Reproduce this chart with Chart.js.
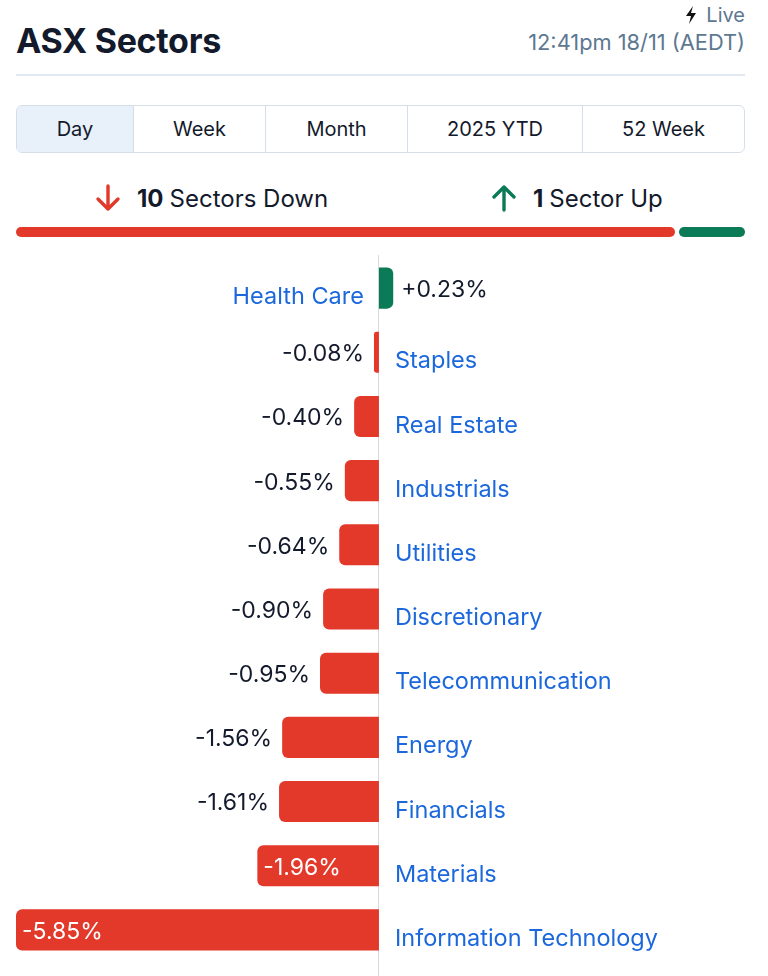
<!DOCTYPE html>
<html>
<head>
<meta charset="utf-8">
<script src="https://cdn.jsdelivr.net/npm/chart.js@4.4.1/dist/chart.umd.min.js"></script>
<style>
  body { margin: 0; background: #fff; font-family: Inter, "Noto Sans", sans-serif; color: #131a2b; }
  #wrap { position: relative; width: 768px; height: 976px; overflow: hidden; }
  h1 { position: absolute; left: 16px; top: 20px; margin: 0; font-size: 34px; font-weight: 700; letter-spacing: -0.3px; }
  .live { position: absolute; right: 23px; top: 3px; font-size: 20px; color: #5d7891; display: flex; align-items: center; }
  .stamp { position: absolute; right: 23px; top: 29px; font-size: 21.8px; color: #5d7891; }
  .sep { position: absolute; left: 16px; width: 729px; top: 74px; height: 2px; background: #e1e8f0; }
  .tabs { position: absolute; left: 16px; top: 105px; width: 727px; height: 46px; border: 1px solid #d5dfea; border-radius: 6px; display: flex; overflow: hidden; }
  .tabs div { display: flex; align-items: center; justify-content: center; font-size: 20px; border-left: 1px solid #d5dfea; }
  .tabs div:first-child { border-left: none; background: #e8f0f9; }
  .sum { position: absolute; top: 183px; font-size: 24px; display: flex; align-items: center; }
  .sum b { margin: 0 6px 0 15px; }
  .bar { position: absolute; top: 227px; height: 10px; border-radius: 5px; }
  #chartBox { position: absolute; left: 0; top: 250px; width: 768px; height: 726px; }
</style>
</head>
<body>
<div id="wrap">
  <h1>ASX Sectors</h1>
  <div class="live"><svg width="14" height="20" viewBox="0 0 14 20" style="margin-right:8px"><path d="M9 1 L2 11 H7 L5 19 L12 8 H7 Z" fill="#111"/></svg>Live</div>
  <div class="stamp">12:41pm 18/11 (AEDT)</div>
  <div class="sep"></div>
  <div class="tabs">
    <div style="width:116px">Day</div>
    <div style="width:131px">Week</div>
    <div style="width:141px">Month</div>
    <div style="width:174px">2025 YTD</div>
    <div style="flex:1">52 Week</div>
  </div>
  <div class="sum" style="left:94px">
    <svg width="28" height="30" viewBox="0 0 28 30"><path d="M14 3 V26 M4 16 L14 26 L24 16" stroke="#e3392a" stroke-width="3.4" fill="none" stroke-linecap="round" stroke-linejoin="round"/></svg>
    <b>10</b>Sectors Down
  </div>
  <div class="sum" style="left:490px">
    <svg width="28" height="30" viewBox="0 0 28 30"><path d="M14 27 V4 M4 14 L14 4 L24 14" stroke="#0b7a57" stroke-width="3.4" fill="none" stroke-linecap="round" stroke-linejoin="round"/></svg>
    <b>1</b>Sector Up
  </div>
  <div class="bar" style="left:16px;width:659px;background:#e3392a"></div>
  <div class="bar" style="left:679px;width:66px;background:#0b7a57"></div>
  <div id="chartBox"><canvas id="c"></canvas></div>
</div>
<script>
var sectors = ["Health Care", "Staples", "Real Estate", "Industrials", "Utilities", "Discretionary",
  "Telecommunication", "Energy", "Financials", "Materials", "Information Technology"];
var changes = [0.23, -0.08, -0.40, -0.55, -0.64, -0.90, -0.95, -1.56, -1.61, -1.96, -5.85];

var RED = "#e3392a", GREEN = "#0b7a57", BLUE = "#1b67dc", INK = "#131a2b";
var NAME_FONT = '23.5px Inter, "Noto Sans", sans-serif';
var VALUE_FONT = '23px Inter, "Noto Sans", sans-serif';

function fmt(v) { return (v > 0 ? "+" : "") + v.toFixed(2) + "%"; }

var labelPlugin = {
  id: "labels",
  beforeDatasetsDraw: function(chart) {
    var ctx = chart.ctx, x0 = Math.round(chart.scales.x.getPixelForValue(0)) - 0.5;
    ctx.save();
    ctx.strokeStyle = "#dadada";
    ctx.lineWidth = 1;
    ctx.beginPath();
    ctx.moveTo(x0, 5);
    ctx.lineTo(x0, chart.height);
    ctx.stroke();
    ctx.restore();
  },
  afterDatasetsDraw: function(chart) {
    var ctx = chart.ctx, x0 = chart.scales.x.getPixelForValue(0);
    var meta = chart.getDatasetMeta(0);
    ctx.save();
    ctx.textBaseline = "middle";
    meta.data.forEach(function(bar, i) {
      var v = changes[i], y = bar.y;
      ctx.font = NAME_FONT;
      ctx.fillStyle = BLUE;
      if (v >= 0) {
        ctx.textAlign = "right";
        ctx.fillText(sectors[i], x0 - 15, y + 9);
        ctx.font = VALUE_FONT;
        ctx.fillStyle = INK; ctx.textAlign = "left";
        ctx.fillText(fmt(v), bar.x + 8, y + 2);
      } else {
        ctx.textAlign = "left";
        ctx.fillText(sectors[i], x0 + 16, y + 9);
        ctx.font = VALUE_FONT;
        if (Math.abs(v) >= 1.9) {
          ctx.fillStyle = "#ffffff"; ctx.textAlign = "left";
          ctx.fillText(fmt(v), bar.x + 6, y + 2);
        } else {
          ctx.fillStyle = INK; ctx.textAlign = "right";
          ctx.fillText(fmt(v), bar.x - 10, y + 2);
        }
      }
    });
    ctx.restore();
  }
};

new Chart(document.getElementById("c"), {
  type: "bar",
  data: {
    labels: sectors,
    datasets: [{
      data: changes,
      backgroundColor: changes.map(function(v) { return v >= 0 ? GREEN : RED; }),
      borderRadius: 6,
      borderSkipped: "start",
      categoryPercentage: 1,
      barPercentage: 0.64
    }]
  },
  options: {
    indexAxis: "y",
    responsive: true,
    maintainAspectRatio: false,
    animation: false,
    layout: { padding: { left: 16, right: 23, top: 6, bottom: 14 } },
    plugins: { legend: { display: false }, tooltip: { enabled: false } },
    scales: {
      x: { display: false, min: -5.85, max: 5.9 },
      y: { display: false }
    }
  },
  plugins: [labelPlugin]
});
</script>
</body>
</html>
